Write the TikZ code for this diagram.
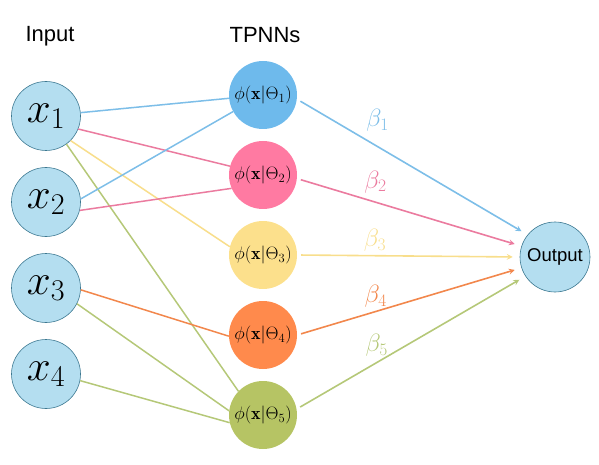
\RequirePackage{fix-cm}
\documentclass[tikz,border=0pt]{standalone}
\usepackage{fontspec}
\newfontfamily\arialfont{Liberation Sans}
\definecolor{inputfill}{RGB}{180,222,240}
\definecolor{inputdraw}{RGB}{60,120,145}
\definecolor{tblue}{RGB}{110,186,236}
\definecolor{tpink}{RGB}{255,122,162}
\definecolor{tyellow}{RGB}{252,224,140}
\definecolor{torange}{RGB}{255,138,76}
\definecolor{tgreen}{RGB}{182,196,100}
\definecolor{eblue}{RGB}{125,190,232}
\definecolor{epink}{RGB}{235,123,159}
\definecolor{eyellow}{RGB}{248,222,140}
\definecolor{eorange}{RGB}{242,135,76}
\definecolor{egreen}{RGB}{181,200,120}
\begin{document}
\begin{tikzpicture}[x=1pt,y=1pt,node distance=80pt]
      \tikzstyle{input} = [circle, minimum size=69pt, inner sep=0pt, fill=inputfill, draw=inputdraw, line width=0.6pt, font=\fontsize{43}{46}\selectfont]
      \tikzstyle{tpnn} = [circle, minimum size=68pt, inner sep=0pt, font=\fontsize{18}{20}\selectfont]
      \tikzstyle{output} = [circle, minimum size=70pt, inner sep=0pt, fill=inputfill, draw=inputdraw, line width=0.6pt, font=\arialfont\fontsize{18.5}{20}\selectfont]
      \tikzstyle{heading} = [font=\arialfont\fontsize{22}{24}\selectfont]
      \tikzstyle{link} = [line width=1.5pt]
      \tikzstyle{arrow} = [line width=1.6pt,->,>=stealth,shorten <=4pt,shorten >=7pt]
      \tikzstyle{beta} = [font=\fontsize{25}{27}\selectfont, pos=0.35, above]

      \useasboundingbox (0,0) rectangle (599,464);

      \node (x1) [input] at (46,348) {$x_1$};
      \node (x2) [input, below of=x1, yshift=-6pt] {$x_2$};
      \node (x3) [input, below of=x2, yshift=-6pt] {$x_3$};
      \node (x4) [input, below of=x3, yshift=-6pt] {$x_4$};
      \node (inlabel) [heading, above of=x1, xshift=4pt] {Input};

      \node (t1) [tpnn, fill=tblue] at (263,369) {$\phi(\mathbf{x}|\Theta_1)$};
      \node (t2) [tpnn, fill=tpink, below of=t1] {$\phi(\mathbf{x}|\Theta_2)$};
      \node (t3) [tpnn, fill=tyellow, below of=t2] {$\phi(\mathbf{x}|\Theta_3)$};
      \node (t4) [tpnn, fill=torange, below of=t3] {$\phi(\mathbf{x}|\Theta_4)$};
      \node (t5) [tpnn, fill=tgreen, below of=t4] {$\phi(\mathbf{x}|\Theta_5)$};
      \node (tplabel) [heading, above of=t1, xshift=2pt, yshift=-20pt] {TPNNs};

      \node (out) [output] at (555,207) {Output};

      \draw [link, eblue] (x1) -- (t1);
      \draw [link, epink] (x1.-22) -- (t2.165);
      \draw [link, eyellow] (x1.-45) -- (t3.166);
      \draw [link, egreen] (x1.-54) -- (t5.136);

      \draw [link, eblue] (x2.5) -- (t1.209);
      \draw [link, epink] (x2.-14) -- (t2.203);

      \draw [link, eorange] (x3.-3) -- (t4.182);
      \draw [link, egreen] (x3.-27) -- (t5.173);

      \draw [link, egreen] (x4.-11) -- (t5.193);

      \draw [arrow, eblue] (t1.-7) -- node [beta, yshift=11pt] {$\beta_1$} (out.141);
      \draw [arrow, epink] (t2.-6) -- node [beta, yshift=5pt] {$\beta_2$} (out.162);
      \draw [arrow, eyellow] (t3.0) -- node [beta] {$\beta_3$} (out.180);
      \draw [arrow, eorange] (t4.0) -- node [beta] {$\beta_4$} (out.198);
      \draw [arrow, egreen] (t5.10) -- node [beta, yshift=2pt] {$\beta_5$} (out.213);
    \end{tikzpicture}
\end{document}
